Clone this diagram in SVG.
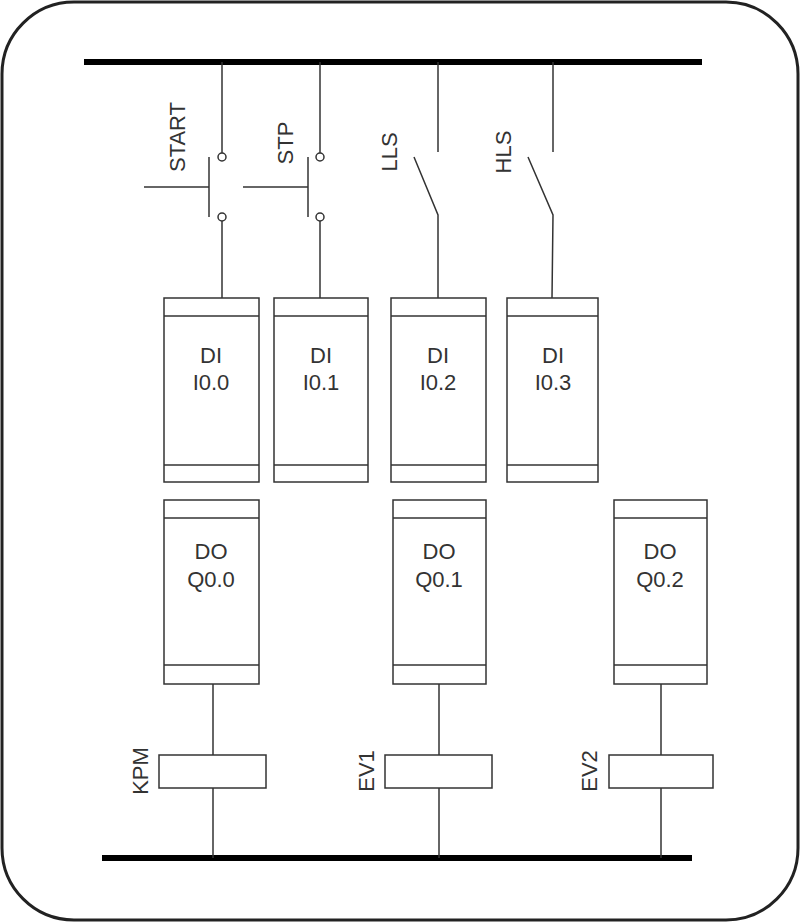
<svg xmlns="http://www.w3.org/2000/svg" width="800" height="922" viewBox="0 0 800 922">
<style>
.ln{stroke:#333;stroke-width:1.5;fill:none}
.bx{stroke:#333;stroke-width:1.5;fill:#fff}
.bus{stroke:#000;stroke-width:6}
text{font-family:"Liberation Sans",Arial,sans-serif;font-size:22px;fill:#333}
.c{text-anchor:middle}
</style>
<rect x="2" y="2" width="796" height="918" rx="72" fill="#fff" stroke="#222" stroke-width="3"/>
<g id="connectors">
<line class="bus" x1="84" y1="62" x2="702" y2="62"/>
<line class="bus" x1="102" y1="858" x2="692" y2="858"/>
<line class="ln" x1="222" y1="62" x2="222" y2="153"/><circle class="ln" cx="222" cy="157" r="4"/><circle class="ln" cx="222" cy="217" r="4"/><line class="ln" x1="222" y1="221" x2="222" y2="298"/>
<line class="ln" x1="209" y1="157" x2="209" y2="217"/><line class="ln" x1="144" y1="187" x2="209" y2="187"/>
<line class="ln" x1="320" y1="62" x2="320" y2="153"/><circle class="ln" cx="320" cy="157" r="4"/><circle class="ln" cx="320" cy="217" r="4"/><line class="ln" x1="320" y1="221" x2="320" y2="298"/>
<line class="ln" x1="308" y1="157" x2="308" y2="217"/><line class="ln" x1="243" y1="187" x2="308" y2="187"/>
<line class="ln" x1="438" y1="62" x2="438" y2="152"/><polyline class="ln" points="414,157 438,215 438,298"/>
<line class="ln" x1="553" y1="62" x2="553" y2="152"/><polyline class="ln" points="528,157 553,215 552,298"/>
<line class="ln" x1="213" y1="684" x2="213" y2="858"/>
<line class="ln" x1="439" y1="684" x2="439" y2="858"/>
<line class="ln" x1="661" y1="684" x2="661" y2="858"/>
</g>
<text transform="translate(185,137) rotate(-90)" class="c">START</text>
<text transform="translate(293,143) rotate(-90)" class="c">STP</text>
<text transform="translate(397,152) rotate(-90)" class="c">LLS</text>
<text transform="translate(511,152) rotate(-90)" class="c">HLS</text>
<g id="di0"><rect class="bx" x="164" y="298" width="95" height="184"/><line class="ln" x1="164" y1="316" x2="259" y2="316"/><line class="ln" x1="164" y1="465" x2="259" y2="465"/><text x="211" y="363" class="c">DI</text><text x="211" y="390" class="c">I0.0</text></g>
<g id="di1"><rect class="bx" x="274" y="298" width="94" height="184"/><line class="ln" x1="274" y1="316" x2="368" y2="316"/><line class="ln" x1="274" y1="465" x2="368" y2="465"/><text x="321" y="363" class="c">DI</text><text x="321" y="390" class="c">I0.1</text></g>
<g id="di2"><rect class="bx" x="391" y="298" width="95" height="184"/><line class="ln" x1="391" y1="316" x2="486" y2="316"/><line class="ln" x1="391" y1="465" x2="486" y2="465"/><text x="438" y="363" class="c">DI</text><text x="438" y="390" class="c">I0.2</text></g>
<g id="di3"><rect class="bx" x="507" y="298" width="91" height="184"/><line class="ln" x1="507" y1="316" x2="598" y2="316"/><line class="ln" x1="507" y1="465" x2="598" y2="465"/><text x="553" y="363" class="c">DI</text><text x="553" y="390" class="c">I0.3</text></g>
<g id="do0"><rect class="bx" x="164" y="500" width="95" height="184"/><line class="ln" x1="164" y1="518" x2="259" y2="518"/><line class="ln" x1="164" y1="665" x2="259" y2="665"/><text x="211" y="559" class="c">DO</text><text x="211" y="587" class="c">Q0.0</text></g>
<g id="do1"><rect class="bx" x="393" y="500" width="93" height="184"/><line class="ln" x1="393" y1="518" x2="486" y2="518"/><line class="ln" x1="393" y1="665" x2="486" y2="665"/><text x="439" y="559" class="c">DO</text><text x="439" y="587" class="c">Q0.1</text></g>
<g id="do2"><rect class="bx" x="614" y="500" width="93" height="184"/><line class="ln" x1="614" y1="518" x2="707" y2="518"/><line class="ln" x1="614" y1="665" x2="707" y2="665"/><text x="660" y="559" class="c">DO</text><text x="660" y="587" class="c">Q0.2</text></g>
<g id="kpm"><rect class="bx" x="159" y="755" width="107" height="33"/><text transform="translate(148,771) rotate(-90)" class="c">KPM</text></g>
<g id="ev1"><rect class="bx" x="385" y="755" width="107" height="33"/><text transform="translate(374,771) rotate(-90)" class="c">EV1</text></g>
<g id="ev2"><rect class="bx" x="609" y="755" width="104" height="33"/><text transform="translate(597,771) rotate(-90)" class="c">EV2</text></g>
</svg>
